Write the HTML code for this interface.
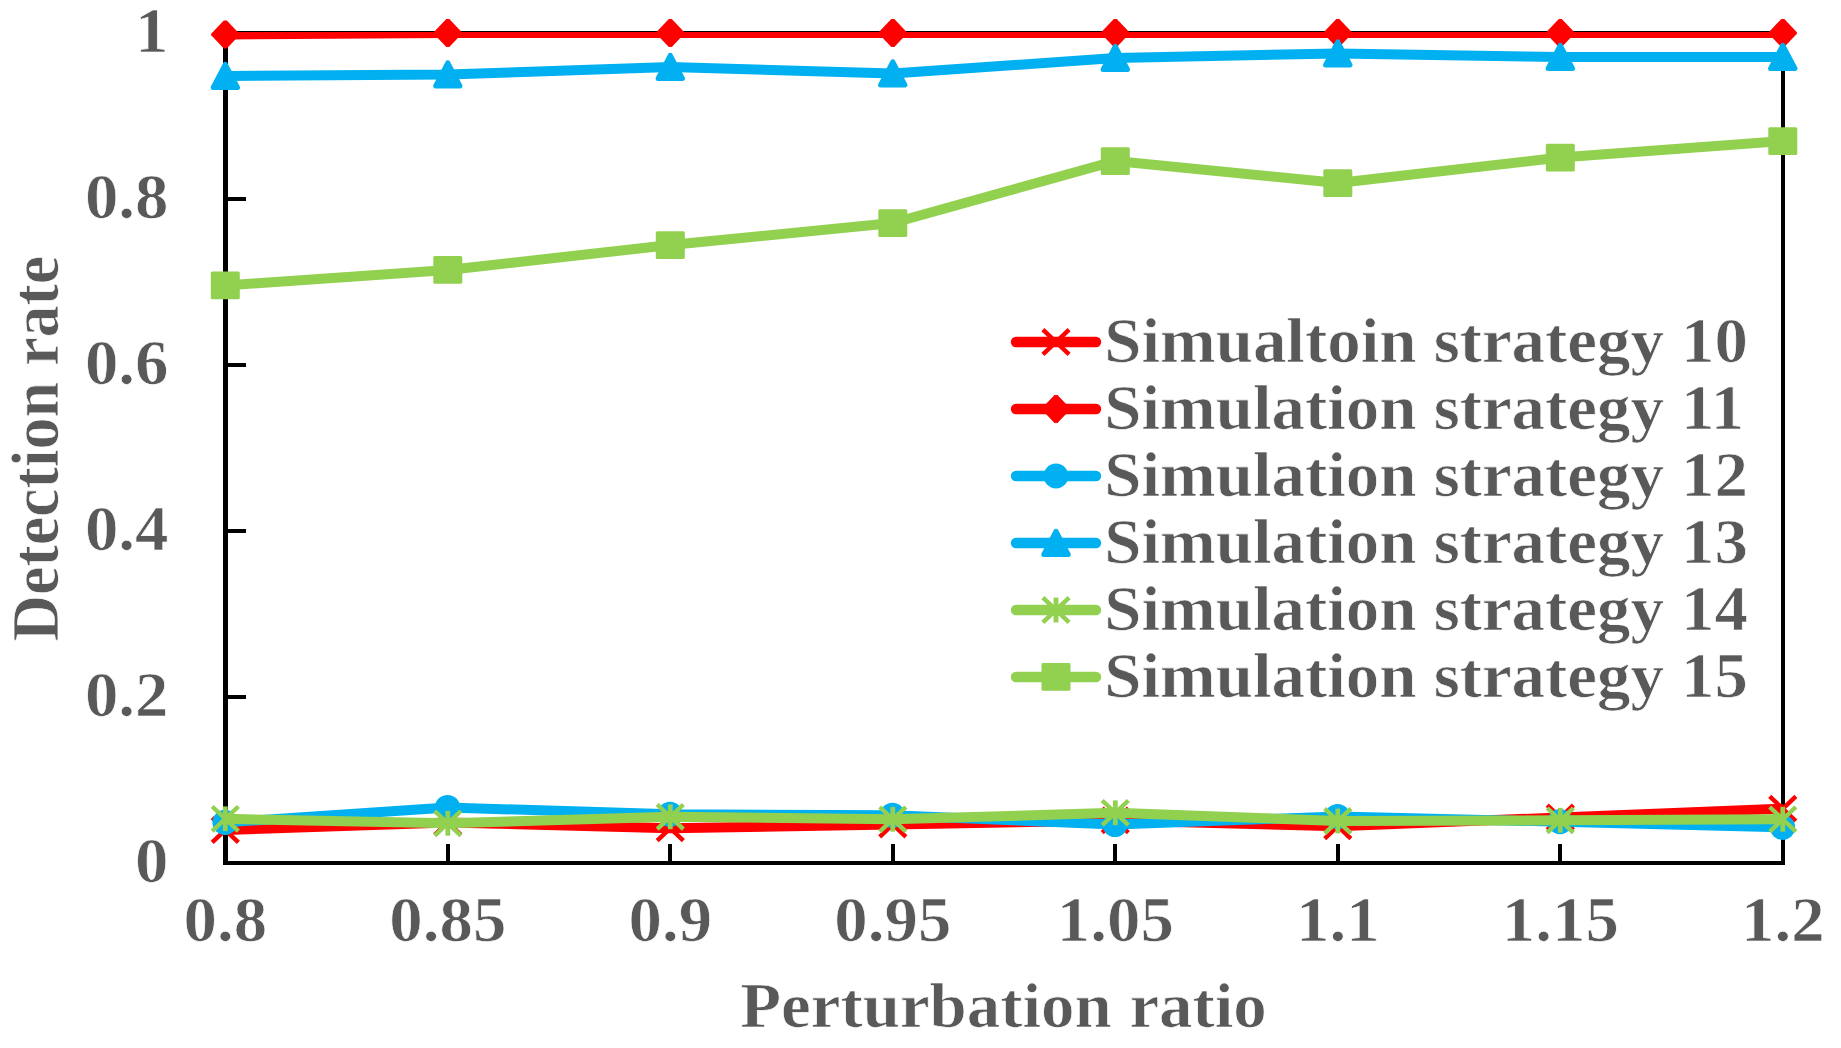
<!DOCTYPE html>
<html><head><meta charset="utf-8"><title>Detection rate vs perturbation ratio</title>
<style>
html,body{margin:0;padding:0;background:#fff;}
body{width:1841px;height:1048px;overflow:hidden;}
svg{display:block;}
text{font-family:"Liberation Serif","Times New Roman",serif;font-weight:bold;fill:#595959;stroke:#fff;stroke-width:0.7px;}
</style></head><body>
<svg width="1841" height="1048" viewBox="0 0 1841 1048">
<rect width="1841" height="1048" fill="#fff"/>
<defs><clipPath id="plotclip"><rect x="0" y="32" width="1841" height="1016"/></clipPath></defs>

<g fill="#000" shape-rendering="crispEdges">
<rect x="223" y="31" width="5" height="834"/>
<rect x="1781" y="31" width="4" height="834"/>
<rect x="223" y="31" width="1562" height="4"/>
<rect x="223" y="861" width="1562" height="4"/>
<rect x="227" y="695" width="19" height="4"/>
<rect x="227" y="529" width="19" height="4"/>
<rect x="227" y="363" width="19" height="4"/>
<rect x="227" y="197" width="19" height="4"/>
<rect x="446" y="844" width="4" height="18"/>
<rect x="668" y="844" width="4" height="18"/>
<rect x="891" y="844" width="4" height="18"/>
<rect x="1113" y="844" width="4" height="18"/>
<rect x="1336" y="844" width="4" height="18"/>
<rect x="1558" y="844" width="4" height="18"/>
</g>
<text transform="translate(168.5,882.4) scale(1.045,1)" font-size="64" text-anchor="end" >0</text>
<text transform="translate(168.5,716.4) scale(1.045,1)" font-size="64" text-anchor="end" >0.2</text>
<text transform="translate(168.5,550.4) scale(1.045,1)" font-size="64" text-anchor="end" >0.4</text>
<text transform="translate(168.5,384.4) scale(1.045,1)" font-size="64" text-anchor="end" >0.6</text>
<text transform="translate(168.5,218.4) scale(1.045,1)" font-size="64" text-anchor="end" >0.8</text>
<text transform="translate(168.5,52.4) scale(1.045,1)" font-size="64" text-anchor="end" >1</text>
<text transform="translate(225.3,941.0) scale(1.045,1)" font-size="64" text-anchor="middle" >0.8</text>
<text transform="translate(447.8,941.0) scale(1.045,1)" font-size="64" text-anchor="middle" >0.85</text>
<text transform="translate(670.3,941.0) scale(1.045,1)" font-size="64" text-anchor="middle" >0.9</text>
<text transform="translate(892.8,941.0) scale(1.045,1)" font-size="64" text-anchor="middle" >0.95</text>
<text transform="translate(1115.3,941.0) scale(1.045,1)" font-size="64" text-anchor="middle" >1.05</text>
<text transform="translate(1337.8,941.0) scale(1.045,1)" font-size="64" text-anchor="middle" >1.1</text>
<text transform="translate(1560.3,941.0) scale(1.045,1)" font-size="64" text-anchor="middle" >1.15</text>
<text transform="translate(1782.8,941.0) scale(1.045,1)" font-size="64" text-anchor="middle" >1.2</text>
<text transform="translate(1003.5,1027.0) scale(1.045,1)" font-size="64" text-anchor="middle" word-spacing="1">Perturbation ratio</text>
<text transform="translate(58,448.5) scale(1.045,1) rotate(-90)" font-size="64" text-anchor="middle">Detection rate</text>
<polyline points="225.3,830.0 447.8,822.5 670.3,828.3 892.8,824.5 1115.3,820.4 1337.8,826.3 1560.3,817.5 1782.8,808.7" fill="none" stroke="#FF0000" stroke-width="10.0" stroke-linejoin="round" stroke-linecap="butt" />
<path d="M212.2,817.7L238.4,842.3M212.2,842.3L238.4,817.7" stroke="#FF0000" stroke-width="4.4" fill="none" stroke-linecap="butt"/>
<path d="M434.7,810.2L460.9,834.8M434.7,834.8L460.9,810.2" stroke="#FF0000" stroke-width="4.4" fill="none" stroke-linecap="butt"/>
<path d="M657.2,816.0L683.4,840.6M657.2,840.6L683.4,816.0" stroke="#FF0000" stroke-width="4.4" fill="none" stroke-linecap="butt"/>
<path d="M879.7,812.2L905.9,836.8M879.7,836.8L905.9,812.2" stroke="#FF0000" stroke-width="4.4" fill="none" stroke-linecap="butt"/>
<path d="M1102.2,808.1L1128.4,832.7M1102.2,832.7L1128.4,808.1" stroke="#FF0000" stroke-width="4.4" fill="none" stroke-linecap="butt"/>
<path d="M1324.7,814.0L1350.9,838.6M1324.7,838.6L1350.9,814.0" stroke="#FF0000" stroke-width="4.4" fill="none" stroke-linecap="butt"/>
<path d="M1547.2,805.2L1573.4,829.8M1547.2,829.8L1573.4,805.2" stroke="#FF0000" stroke-width="4.4" fill="none" stroke-linecap="butt"/>
<path d="M1769.7,796.4L1795.9,821.0M1769.7,821.0L1795.9,796.4" stroke="#FF0000" stroke-width="4.4" fill="none" stroke-linecap="butt"/>
<polyline points="225.3,34.5 447.8,33.0 670.3,33.0 892.8,33.0 1115.3,33.0 1337.8,33.0 1560.3,33.0 1782.8,33.0" fill="none" stroke="#FF0000" stroke-width="10.0" stroke-linejoin="round" stroke-linecap="butt" clip-path="url(#plotclip)"/>
<polygon points="223.8,20.4 226.8,20.4 239.4,33.7 239.4,35.3 226.8,48.6 223.8,48.6 211.2,35.3 211.2,33.7" fill="#FF0000"/>
<polygon points="446.3,18.9 449.3,18.9 461.9,32.2 461.9,33.8 449.3,47.1 446.3,47.1 433.7,33.8 433.7,32.2" fill="#FF0000"/>
<polygon points="668.8,18.9 671.8,18.9 684.4,32.2 684.4,33.8 671.8,47.1 668.8,47.1 656.2,33.8 656.2,32.2" fill="#FF0000"/>
<polygon points="891.3,18.9 894.3,18.9 906.9,32.2 906.9,33.8 894.3,47.1 891.3,47.1 878.7,33.8 878.7,32.2" fill="#FF0000"/>
<polygon points="1113.8,18.9 1116.8,18.9 1129.4,32.2 1129.4,33.8 1116.8,47.1 1113.8,47.1 1101.2,33.8 1101.2,32.2" fill="#FF0000"/>
<polygon points="1336.3,18.9 1339.3,18.9 1351.9,32.2 1351.9,33.8 1339.3,47.1 1336.3,47.1 1323.7,33.8 1323.7,32.2" fill="#FF0000"/>
<polygon points="1558.8,18.9 1561.8,18.9 1574.4,32.2 1574.4,33.8 1561.8,47.1 1558.8,47.1 1546.2,33.8 1546.2,32.2" fill="#FF0000"/>
<polygon points="1781.3,18.9 1784.3,18.9 1796.9,32.2 1796.9,33.8 1784.3,47.1 1781.3,47.1 1768.7,33.8 1768.7,32.2" fill="#FF0000"/>
<polyline points="225.3,822.3 447.8,807.5 670.3,814.3 892.8,815.3 1115.3,824.5 1337.8,816.5 1560.3,821.7 1782.8,827.3" fill="none" stroke="#00B0F0" stroke-width="10.0" stroke-linejoin="round" stroke-linecap="butt" />
<circle cx="225.0" cy="822.3" r="12.6" fill="#00B0F0"/>
<circle cx="447.5" cy="807.5" r="12.6" fill="#00B0F0"/>
<circle cx="670.0" cy="814.3" r="12.6" fill="#00B0F0"/>
<circle cx="892.5" cy="815.3" r="12.6" fill="#00B0F0"/>
<circle cx="1115.0" cy="824.5" r="12.6" fill="#00B0F0"/>
<circle cx="1337.5" cy="816.5" r="12.6" fill="#00B0F0"/>
<circle cx="1560.0" cy="821.7" r="12.6" fill="#00B0F0"/>
<circle cx="1782.5" cy="827.3" r="12.6" fill="#00B0F0"/>
<polyline points="225.3,76.0 447.8,74.5 670.3,67.0 892.8,73.5 1115.3,58.0 1337.8,53.5 1560.3,57.0 1782.8,57.0" fill="none" stroke="#00B0F0" stroke-width="10.0" stroke-linejoin="round" stroke-linecap="butt" />
<path d="M225.3,64.3L237.5,87.5L213.2,87.5Z" fill="#00B0F0" stroke="#00B0F0" stroke-width="5" stroke-linejoin="round"/>
<path d="M447.8,62.8L459.9,86.0L435.7,86.0Z" fill="#00B0F0" stroke="#00B0F0" stroke-width="5" stroke-linejoin="round"/>
<path d="M670.3,55.3L682.4,78.5L658.1,78.5Z" fill="#00B0F0" stroke="#00B0F0" stroke-width="5" stroke-linejoin="round"/>
<path d="M892.8,61.8L904.9,85.0L880.6,85.0Z" fill="#00B0F0" stroke="#00B0F0" stroke-width="5" stroke-linejoin="round"/>
<path d="M1115.3,46.3L1127.5,69.5L1103.1,69.5Z" fill="#00B0F0" stroke="#00B0F0" stroke-width="5" stroke-linejoin="round"/>
<path d="M1337.8,41.8L1350.0,65.0L1325.6,65.0Z" fill="#00B0F0" stroke="#00B0F0" stroke-width="5" stroke-linejoin="round"/>
<path d="M1560.3,45.3L1572.5,68.5L1548.1,68.5Z" fill="#00B0F0" stroke="#00B0F0" stroke-width="5" stroke-linejoin="round"/>
<path d="M1782.8,45.3L1795.0,68.5L1770.6,68.5Z" fill="#00B0F0" stroke="#00B0F0" stroke-width="5" stroke-linejoin="round"/>
<polyline points="225.3,818.8 447.8,823.3 670.3,816.8 892.8,819.3 1115.3,812.8 1337.8,821.0 1560.3,820.3 1782.8,819.3" fill="none" stroke="#92D050" stroke-width="10.0" stroke-linejoin="round" stroke-linecap="butt" />
<path d="M212.2,806.5L238.4,831.1M212.2,831.1L238.4,806.5" stroke="#92D050" stroke-width="4.4" fill="none" stroke-linecap="butt"/><path d="M225.3,806.4V831.2" stroke="#92D050" stroke-width="4.8" fill="none"/>
<path d="M434.7,811.0L460.9,835.6M434.7,835.6L460.9,811.0" stroke="#92D050" stroke-width="4.4" fill="none" stroke-linecap="butt"/><path d="M447.8,810.9V835.7" stroke="#92D050" stroke-width="4.8" fill="none"/>
<path d="M657.2,804.5L683.4,829.1M657.2,829.1L683.4,804.5" stroke="#92D050" stroke-width="4.4" fill="none" stroke-linecap="butt"/><path d="M670.3,804.4V829.2" stroke="#92D050" stroke-width="4.8" fill="none"/>
<path d="M879.7,807.0L905.9,831.6M879.7,831.6L905.9,807.0" stroke="#92D050" stroke-width="4.4" fill="none" stroke-linecap="butt"/><path d="M892.8,806.9V831.7" stroke="#92D050" stroke-width="4.8" fill="none"/>
<path d="M1102.2,800.5L1128.4,825.1M1102.2,825.1L1128.4,800.5" stroke="#92D050" stroke-width="4.4" fill="none" stroke-linecap="butt"/><path d="M1115.3,800.4V825.2" stroke="#92D050" stroke-width="4.8" fill="none"/>
<path d="M1324.7,808.7L1350.9,833.3M1324.7,833.3L1350.9,808.7" stroke="#92D050" stroke-width="4.4" fill="none" stroke-linecap="butt"/><path d="M1337.8,808.6V833.4" stroke="#92D050" stroke-width="4.8" fill="none"/>
<path d="M1547.2,808.0L1573.4,832.6M1547.2,832.6L1573.4,808.0" stroke="#92D050" stroke-width="4.4" fill="none" stroke-linecap="butt"/><path d="M1560.3,807.9V832.7" stroke="#92D050" stroke-width="4.8" fill="none"/>
<path d="M1769.7,807.0L1795.9,831.6M1769.7,831.6L1795.9,807.0" stroke="#92D050" stroke-width="4.4" fill="none" stroke-linecap="butt"/><path d="M1782.8,806.9V831.7" stroke="#92D050" stroke-width="4.8" fill="none"/>
<polyline points="225.3,285.5 447.8,270.0 670.3,245.0 892.8,223.0 1115.3,161.0 1337.8,183.0 1560.3,157.5 1782.8,141.0" fill="none" stroke="#92D050" stroke-width="10.0" stroke-linejoin="round" stroke-linecap="butt" />
<rect x="212.3" y="273.1" width="26.0" height="24.7" fill="#92D050" stroke="#92D050" stroke-width="3.0" stroke-linejoin="round"/>
<rect x="434.8" y="257.6" width="26.0" height="24.7" fill="#92D050" stroke="#92D050" stroke-width="3.0" stroke-linejoin="round"/>
<rect x="657.3" y="232.7" width="26.0" height="24.7" fill="#92D050" stroke="#92D050" stroke-width="3.0" stroke-linejoin="round"/>
<rect x="879.8" y="210.7" width="26.0" height="24.7" fill="#92D050" stroke="#92D050" stroke-width="3.0" stroke-linejoin="round"/>
<rect x="1102.3" y="148.7" width="26.0" height="24.7" fill="#92D050" stroke="#92D050" stroke-width="3.0" stroke-linejoin="round"/>
<rect x="1324.8" y="170.7" width="26.0" height="24.7" fill="#92D050" stroke="#92D050" stroke-width="3.0" stroke-linejoin="round"/>
<rect x="1547.3" y="145.2" width="26.0" height="24.7" fill="#92D050" stroke="#92D050" stroke-width="3.0" stroke-linejoin="round"/>
<rect x="1769.8" y="128.7" width="26.0" height="24.7" fill="#92D050" stroke="#92D050" stroke-width="3.0" stroke-linejoin="round"/>
<line x1="1016" y1="342" x2="1096" y2="342" stroke="#FF0000" stroke-width="10.4" stroke-linecap="round"/>
<path d="M1042.9,329.7L1069.1,354.3M1042.9,354.3L1069.1,329.7" stroke="#FF0000" stroke-width="4.4" fill="none" stroke-linecap="butt"/>
<text transform="translate(1104.3,362.0) scale(1.045,1)" font-size="64" text-anchor="start" word-spacing="0.5">Simualtoin strategy 10</text>
<line x1="1016" y1="409" x2="1096" y2="409" stroke="#FF0000" stroke-width="10.4" stroke-linecap="round"/>
<polygon points="1054.5,394.9 1057.5,394.9 1070.1,408.2 1070.1,409.8 1057.5,423.1 1054.5,423.1 1041.9,409.8 1041.9,408.2" fill="#FF0000"/>
<text transform="translate(1104.3,429.0) scale(1.045,1)" font-size="64" text-anchor="start" word-spacing="0.5">Simulation strategy 11</text>
<line x1="1016" y1="476" x2="1096" y2="476" stroke="#00B0F0" stroke-width="10.4" stroke-linecap="round"/>
<circle cx="1056.0" cy="476.0" r="12.4" fill="#00B0F0"/>
<text transform="translate(1104.3,496.0) scale(1.045,1)" font-size="64" text-anchor="start" word-spacing="0.5">Simulation strategy 12</text>
<line x1="1016" y1="543" x2="1096" y2="543" stroke="#00B0F0" stroke-width="10.4" stroke-linecap="round"/>
<path d="M1056.0,531.3L1068.2,554.5L1043.8,554.5Z" fill="#00B0F0" stroke="#00B0F0" stroke-width="5" stroke-linejoin="round"/>
<text transform="translate(1104.3,563.0) scale(1.045,1)" font-size="64" text-anchor="start" word-spacing="0.5">Simulation strategy 13</text>
<line x1="1016" y1="610" x2="1096" y2="610" stroke="#92D050" stroke-width="10.4" stroke-linecap="round"/>
<path d="M1042.9,597.7L1069.1,622.3M1042.9,622.3L1069.1,597.7" stroke="#92D050" stroke-width="4.4" fill="none" stroke-linecap="butt"/><path d="M1056.0,597.6V622.4" stroke="#92D050" stroke-width="4.8" fill="none"/>
<text transform="translate(1104.3,630.0) scale(1.045,1)" font-size="64" text-anchor="start" word-spacing="0.5">Simulation strategy 14</text>
<line x1="1016" y1="677" x2="1096" y2="677" stroke="#92D050" stroke-width="10.4" stroke-linecap="round"/>
<rect x="1043.0" y="664.6" width="26.0" height="24.7" fill="#92D050" stroke="#92D050" stroke-width="3.0" stroke-linejoin="round"/>
<text transform="translate(1104.3,697.0) scale(1.045,1)" font-size="64" text-anchor="start" word-spacing="0.5">Simulation strategy 15</text>
</svg></body></html>
